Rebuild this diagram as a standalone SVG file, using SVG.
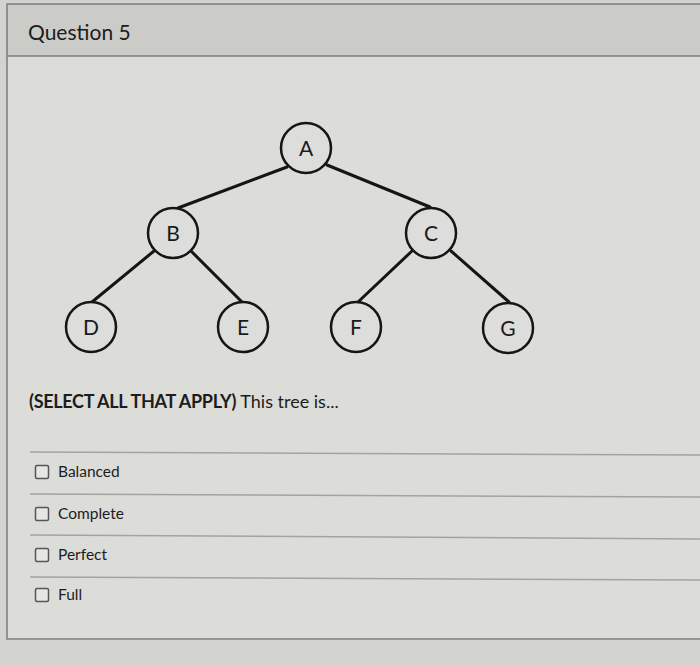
<svg xmlns="http://www.w3.org/2000/svg" width="700" height="666" viewBox="0 0 700 666">
<style>
.bg{fill:#dcdcd9}
.hdr{fill:#cbcbc8}
.border{stroke:#7c7c7a;stroke-width:1.5;fill:none}
.sep{stroke:#a3a3a0;stroke-width:1.5}
.edge{stroke:#151515;stroke-width:3;stroke-linecap:round}
.node circle{fill:#dddddb;stroke:#151515;stroke-width:2.5}
.node text{font-family:Lato,"Liberation Sans",sans-serif;font-size:21px;fill:#1a1a1a;text-anchor:middle}
.t{font-family:Lato,"Liberation Sans",sans-serif;fill:#1c1c1c}
.cb{fill:#e6e6e3;stroke:#555;stroke-width:1.5}
</style>
<rect x="0" y="0" width="700" height="666" fill="#d3d3d0"/>
<rect x="7" y="4" width="700" height="636" class="bg"/>
<rect x="7" y="4" width="700" height="52" class="hdr"/>
<path d="M700 4 H7 V639 H700" class="border"/>
<line x1="7" y1="56" x2="700" y2="56" class="border"/>
<text x="28" y="40" class="t" font-size="21">Question 5</text>

<g id="connectors">
<line class="edge" x1="287" y1="167" x2="178" y2="208"/>
<line class="edge" x1="327" y1="165" x2="430" y2="207"/>
<line class="edge" x1="154" y1="251" x2="92" y2="302"/>
<line class="edge" x1="191" y1="251" x2="242" y2="302"/>
<line class="edge" x1="412" y1="251" x2="358" y2="302"/>
<line class="edge" x1="451" y1="251" x2="509" y2="302"/>
</g>

<g id="node-A" class="node"><circle cx="306" cy="148" r="25"/><text x="306" y="156">A</text></g>
<g id="node-B" class="node"><circle cx="173" cy="233" r="25"/><text x="173" y="241">B</text></g>
<g id="node-C" class="node"><circle cx="431" cy="233" r="25"/><text x="431" y="241">C</text></g>
<g id="node-D" class="node"><circle cx="91" cy="327" r="25"/><text x="91" y="335">D</text></g>
<g id="node-E" class="node"><circle cx="243" cy="327" r="25"/><text x="243" y="335">E</text></g>
<g id="node-F" class="node"><circle cx="356" cy="327" r="25"/><text x="356" y="335">F</text></g>
<g id="node-G" class="node"><circle cx="508" cy="328" r="25"/><text x="508" y="336">G</text></g>

<text x="29" y="408" class="t" font-size="18"><tspan font-weight="bold" letter-spacing="-0.3">(SELECT ALL THAT APPLY)</tspan> This tree is...</text>

<line class="sep" x1="30" y1="452" x2="700" y2="455"/>
<line class="sep" x1="30" y1="494" x2="700" y2="497"/>
<line class="sep" x1="30" y1="535" x2="700" y2="539"/>
<line class="sep" x1="30" y1="577" x2="700" y2="580"/>

<rect class="cb" x="35.5" y="465.5" width="13" height="13" rx="1.5"/>
<text x="58" y="477" class="t" font-size="15.5">Balanced</text>
<rect class="cb" x="35.5" y="507.5" width="13" height="13" rx="1.5"/>
<text x="58" y="519" class="t" font-size="15.5">Complete</text>
<rect class="cb" x="35.5" y="548.5" width="13" height="13" rx="1.5"/>
<text x="58" y="560" class="t" font-size="15.5">Perfect</text>
<rect class="cb" x="35.5" y="588.5" width="13" height="13" rx="1.5"/>
<text x="58" y="600" class="t" font-size="15.5">Full</text>
</svg>
